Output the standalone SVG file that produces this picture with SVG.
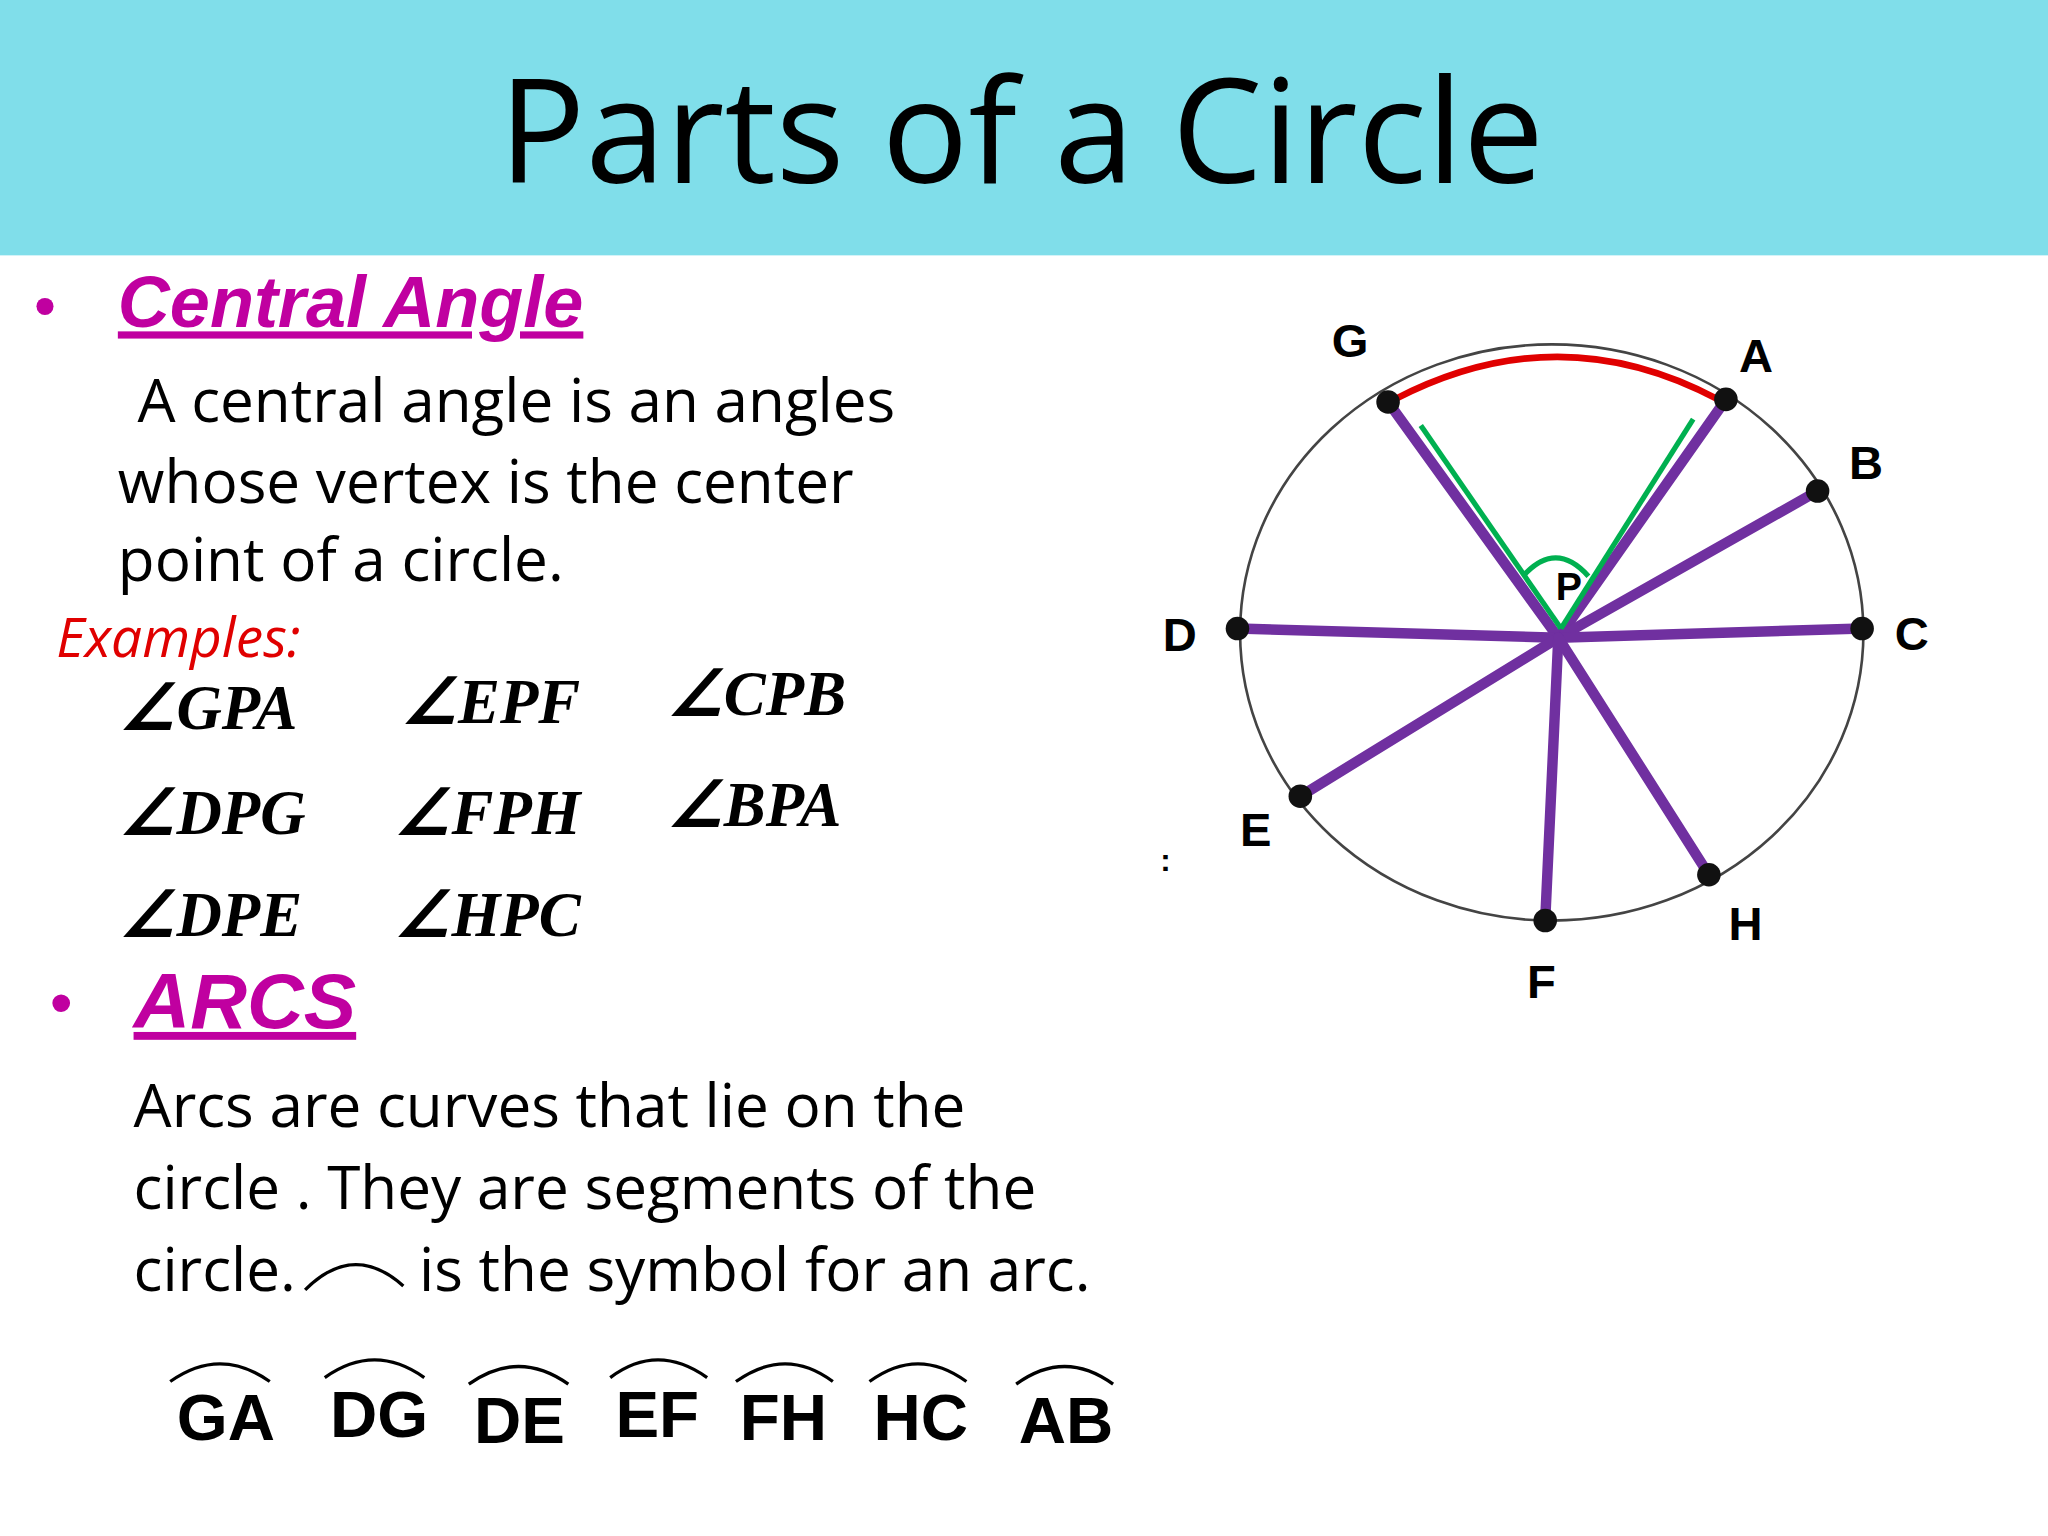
<svg xmlns="http://www.w3.org/2000/svg" width="2048" height="1536" viewBox="0 0 2048 1536">
<style>
.body{font-family:"Open Sans","Noto Sans",sans-serif;font-size:46px;fill:#000}
.ang{font-family:"Liberation Serif",serif;font-weight:bold;font-style:italic;font-size:48px;fill:#000}
.lbl{font-family:"Liberation Sans",sans-serif;font-weight:bold;font-size:36px;fill:#000}
.arcl{font-family:"Liberation Sans",sans-serif;font-weight:bold;font-size:50px;fill:#000}
.head{font-family:"Liberation Sans",sans-serif;font-weight:bold;font-style:italic;fill:#C000A0;text-decoration:underline}
.spoke{stroke:#7030A0;stroke-width:8;stroke-linecap:round}
.dot{fill:#111}
.sym{fill:none;stroke:#000;stroke-width:2.5}
</style>
<rect width="2048" height="1536" fill="#fff"/>
<g transform="scale(1.3095)">
<g id="header"><rect x="0" y="0" width="1564" height="195" fill="#80DEEA"/>
<text x="780" y="140" text-anchor="middle" font-family="Open Sans,Noto Sans,sans-serif" font-size="110" fill="#000">Parts of a Circle</text></g>
<g id="central">
<text x="26" y="250" font-family="Liberation Sans,sans-serif" font-size="48" fill="#C000A0">•</text>
<text x="90" y="250" class="head" font-size="55">Central Angle</text>
<text x="105" y="322" class="body">A central angle is an angles</text>
<text x="90" y="384" class="body">whose vertex is the center</text>
<text x="90" y="444" class="body">point of a circle.</text>
<text x="43" y="502" font-family="Open Sans,sans-serif" font-style="italic" font-size="42" fill="#E00000">Examples:</text>
<text x="92" y="557" class="ang">∠GPA</text><text x="307" y="552" class="ang">∠EPF</text><text x="510" y="546" class="ang">∠CPB</text>
<text x="92" y="637" class="ang">∠DPG</text><text x="302" y="637" class="ang">∠FPH</text><text x="510" y="631" class="ang">∠BPA</text>
<text x="92" y="715" class="ang">∠DPE</text><text x="302" y="715" class="ang">∠HPC</text>
</g>
<g id="arcs">
<text x="38" y="783" font-family="Liberation Sans,sans-serif" font-size="50" fill="#C000A0">•</text>
<text x="102" y="785" class="head" font-size="60">ARCS</text>
<text x="102" y="861" class="body">Arcs are curves that lie on the</text>
<text x="102" y="923" class="body">circle . They are segments of the</text>
<text x="102" y="986" class="body">circle.</text>
<path class="sym" d="M233,985 Q270,948 308,982"/>
<text x="320" y="986" class="body">is the symbol for an arc.</text>
<g class="arcl">
<text x="135" y="1100">GA</text><text x="252" y="1097">DG</text><text x="362" y="1102">DE</text><text x="470" y="1097">EF</text><text x="565" y="1100">FH</text><text x="667" y="1100">HC</text><text x="778" y="1102">AB</text></g>
<g class="sym" stroke-width="3">
<path d="M130,1055 Q168,1028 206,1055"/><path d="M248,1052 Q286,1025 324,1052"/><path d="M358,1057 Q396,1030 434,1057"/><path d="M466,1052 Q502,1025 540,1052"/><path d="M562,1055 Q600,1028 636,1055"/><path d="M664,1055 Q701,1028 738,1055"/><path d="M776,1057 Q813,1030 850,1057"/></g>
</g>
<g id="circle">
<ellipse cx="1185" cy="483" rx="238" ry="220" fill="none" stroke="#444" stroke-width="2"/>
<path d="M1065,305 Q1190,240 1312,305" fill="none" stroke="#E00000" stroke-width="5"/>
<g class="spoke">
<line x1="1190" y1="487" x2="1060" y2="307"/><line x1="1190" y1="487" x2="1318" y2="305"/><line x1="1190" y1="487" x2="1388" y2="375"/><line x1="1190" y1="487" x2="1422" y2="480"/><line x1="1190" y1="487" x2="945" y2="480"/><line x1="1190" y1="487" x2="993" y2="608"/><line x1="1190" y1="487" x2="1180" y2="703"/><line x1="1190" y1="487" x2="1305" y2="668"/></g>
<g fill="none" stroke="#00B050" stroke-width="4"><line x1="1085" y1="325" x2="1192" y2="480"/><line x1="1293" y1="320" x2="1192" y2="480"/><path d="M1163,440 Q1188,412 1213,440"/></g>
<g class="dot"><circle cx="1060" cy="307" r="9"/><circle cx="1318" cy="305" r="9"/><circle cx="1388" cy="375" r="9"/><circle cx="1422" cy="480" r="9"/><circle cx="945" cy="480" r="9"/><circle cx="993" cy="608" r="9"/><circle cx="1180" cy="703" r="9"/><circle cx="1305" cy="668" r="9"/></g>
<g class="lbl"><text x="1017" y="273">G</text><text x="1328" y="284">A</text><text x="1412" y="366">B</text><text x="1447" y="496">C</text><text x="888" y="497">D</text><text x="947" y="646">E</text><text x="1166" y="762">F</text><text x="1320" y="718">H</text><text x="1188" y="458" font-size="30">P</text><text x="886" y="665" font-size="24">:</text></g>
</g>
</g>
</svg>
